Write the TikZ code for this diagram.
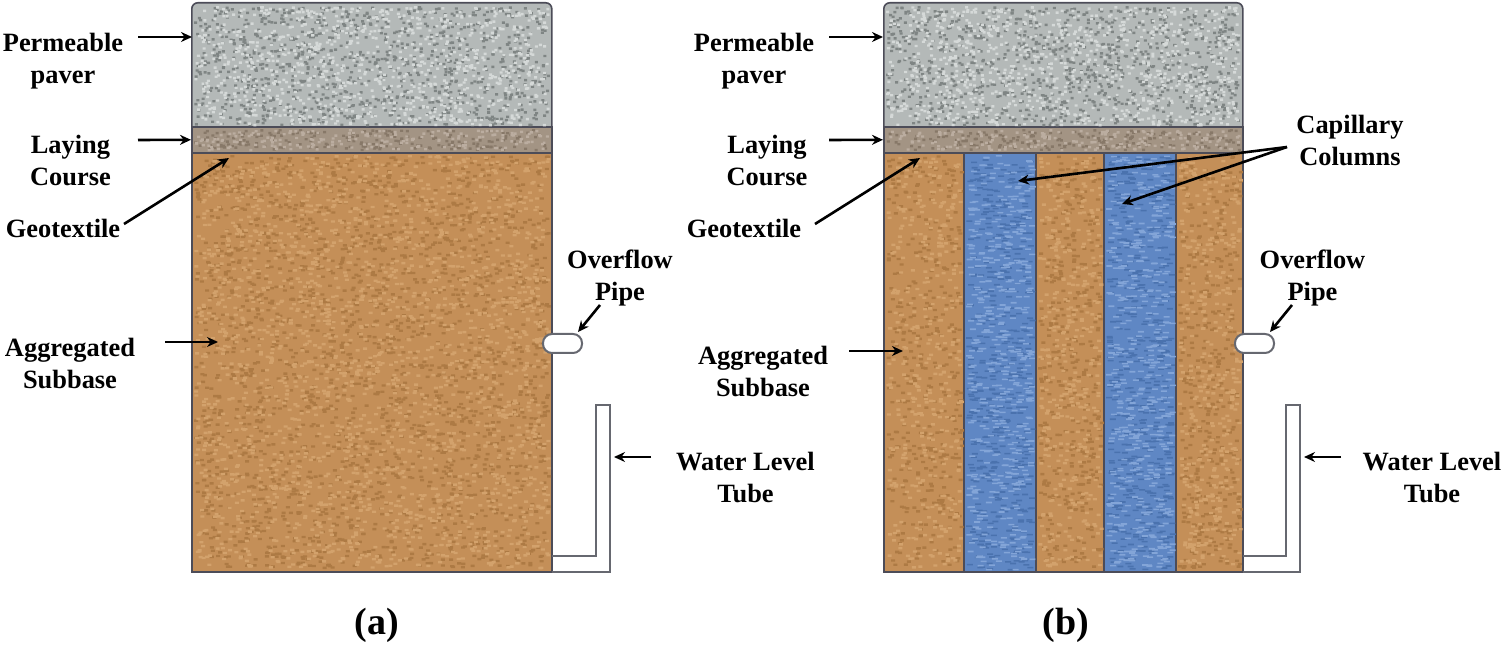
\documentclass[tikz,border=0pt]{standalone}
\usepackage{fontspec}
\setmainfont{Liberation Serif}
\usetikzlibrary{arrows.meta}

% grain flecks: x, y, width, height, colour, batches of 100, fleck size
\newcommand{\grains}[7]{\foreach \b in {1,...,#6}{\fill[-, #5] foreach \k in {1,...,100} {({#1+#3*rnd},{#2+#4*rnd}) rectangle ++(#7)};}}

\definecolor{paverbase}{HTML}{B4B9B8}
\definecolor{paverdark}{HTML}{7F8584}
\definecolor{paverlight}{HTML}{D5D9D8}
\definecolor{laybase}{HTML}{A39484}
\definecolor{laydark}{HTML}{877868}
\definecolor{laylight}{HTML}{BBADA0}
\definecolor{subbase}{HTML}{C48F58}
\definecolor{subdark}{HTML}{AD7A44}
\definecolor{sublight}{HTML}{D3A26C}
\definecolor{colbase}{HTML}{5F87C4}
\definecolor{coldark}{HTML}{4A72AE}
\definecolor{collight}{HTML}{83A5D8}
\definecolor{edgegrey}{HTML}{4C4C58}
\definecolor{tubegrey}{HTML}{666870}

\tikzset{
    ->, >={Stealth[length=5.5pt, width=5pt]},
    layer/.style={-, draw=edgegrey, line width=0.8pt, inner sep=0pt, anchor=north west, minimum width=180pt},
    paver/.style={layer, fill=paverbase, rounded corners=3pt, minimum height=65pt},
    laying/.style={layer, fill=laybase, minimum height=13pt},
    aggregate/.style={layer, fill=subbase, minimum height=209.5pt},
    column/.style={layer, fill=colbase, minimum width=36pt, minimum height=209.5pt},
    pipe/.style={-, draw=tubegrey, fill=white, line width=1pt, rounded corners=4.5pt, inner sep=0pt, minimum width=19.5pt, minimum height=9.5pt},
    tube/.style={-, draw=tubegrey, line width=1pt, line join=miter},
    lbl/.style={align=center, inner sep=0pt, font=\fontsize{13.2}{16}\selectfont\bfseries},
    pointer/.style={->, line width=1.3pt},
    caption/.style={inner sep=0pt, font=\fontsize{19}{22}\selectfont\bfseries},
}

\begin{document}
\begin{tikzpicture}[x=0.5pt, y=-0.5pt]
\useasboundingbox (0,0) rectangle (1505,646);
\pgfmathsetseed{7}

% panel a
\node[paver] (pavA) at (191,2) {};
\node[aggregate] (subA) at (191,152) {};
\node[laying] (layA) at (191,126) {};
\grains{194}{6}{353}{118}{paverdark}{10}{3,2.4}
\grains{194}{6}{353}{118}{paverlight}{10}{3,2.4}
\grains{194}{129}{353}{20}{laydark}{2}{3,2.4}
\grains{194}{129}{353}{20}{laylight}{2}{3,2.4}
\grains{194}{155}{353}{412}{subdark}{22}{4,2.4}
\grains{194}{155}{353}{412}{sublight}{22}{4,2.4}
\node[pipe] (pipeA) at (562.5,343.5) {};
\draw[tube] (552,556) -- (596,556) -- (596,405) -- (609.5,405) -- (609.5,572) -- (552,572);

\node[lbl] (lblPavA) at (63,61) {Permeable\\paver};
\node[lbl] (lblLayA) at (70.5,161) {Laying\\Course};
\node[lbl] (lblGeoA) at (63,228.5) {Geotextile};
\node[lbl] (lblSubA) at (70,364) {Aggregated\\Subbase};
\node[lbl] (lblPipeA) at (620,278) {Overflow\\Pipe};
\node[lbl] (lblTubeA) at (745.5,478) {Water Level\\Tube};
\node[caption] (capA) at (377,625) {(a)};

\coordinate (pavAs) at (138,37);
\coordinate (pavAe) at (192,37);
\coordinate (layAs) at (138,140);
\coordinate (geoAs) at (124,224);
\coordinate (geoAe) at (229,158);
\coordinate (subAs) at (165,342);
\coordinate (subAe) at (218,342);
\coordinate (pipeAs) at (600,305);
\coordinate (pipeAe) at (578,332);
\coordinate (tubeAs) at (651,457);
\coordinate (tubeAe) at (614,457);

\draw[pointer] (pavAs) -- (pavAe);
\draw[pointer] (layAs) -- (layA.west);
\draw[pointer] (geoAs) -- (geoAe);
\draw[pointer] (subAs) -- (subAe);
\draw[pointer] (pipeAs) -- (pipeAe);
\draw[pointer] (tubeAs) -- (tubeAe);

% panel b
\node[paver, minimum width=179.5pt] (pavB) at (883,2) {};
\node[aggregate, minimum width=179.5pt] (subB) at (883,152) {};
\node[column] (colB) at (963,152) {};
\node[column] (colC) at (1103,152) {};
\node[laying, minimum width=179.5pt] (layB) at (883,126) {};
\grains{886}{6}{352}{118}{paverdark}{10}{3,2.4}
\grains{886}{6}{352}{118}{paverlight}{10}{3,2.4}
\grains{886}{129}{352}{20}{laydark}{2}{3,2.4}
\grains{886}{129}{352}{20}{laylight}{2}{3,2.4}
\foreach \gx/\gw in {886/74, 1038/62, 1178/61}{
  \grains{\gx}{155}{\gw}{412}{subdark}{4}{4,2.4}
  \grains{\gx}{155}{\gw}{412}{sublight}{4}{4,2.4}
}
\foreach \gx in {966, 1106}{
  \grains{\gx}{155}{64}{414}{coldark}{5}{6,1.6}
  \grains{\gx}{155}{64}{414}{collight}{5}{6,1.6}
}
\node[pipe] (pipeB) at (1254.5,343.5) {};
\draw[tube] (1243,556) -- (1286,556) -- (1286,405) -- (1299.5,405) -- (1299.5,572) -- (1243,572);

\node[lbl] (lblPavB) at (754,61) {Permeable\\paver};
\node[lbl] (lblLayB) at (767,161) {Laying\\Course};
\node[lbl] (lblGeoB) at (744,228.5) {Geotextile};
\node[lbl] (lblSubB) at (763,372) {Aggregated\\Subbase};
\node[lbl] (lblCap) at (1350,141) {Capillary\\Columns};
\node[lbl] (lblPipeB) at (1312.5,278) {Overflow\\Pipe};
\node[lbl] (lblTubeB) at (1432,478) {Water Level\\Tube};
\node[caption] (capB) at (1066,625) {(b)};

\coordinate (pavBs) at (829,37);
\coordinate (pavBe) at (883,37);
\coordinate (layBs) at (829,140);
\coordinate (geoBs) at (815,224);
\coordinate (geoBe) at (920,158);
\coordinate (subBs) at (849,351);
\coordinate (subBe) at (903,351);
\coordinate (capS) at (1287,147);
\coordinate (colBe) at (1018,181);
\coordinate (colCe) at (1122,204);
\coordinate (pipeBs) at (1292,305);
\coordinate (pipeBe) at (1270,332);
\coordinate (tubeBs) at (1341,457);
\coordinate (tubeBe) at (1304,457);

\draw[pointer] (pavBs) -- (pavBe);
\draw[pointer] (layBs) -- (layB.west);
\draw[pointer] (geoBs) -- (geoBe);
\draw[pointer] (subBs) -- (subBe);
\draw[pointer] (capS) -- (colBe);
\draw[pointer] (capS) -- (colCe);
\draw[pointer] (pipeBs) -- (pipeBe);
\draw[pointer] (tubeBs) -- (tubeBe);

\end{tikzpicture}
\end{document}
